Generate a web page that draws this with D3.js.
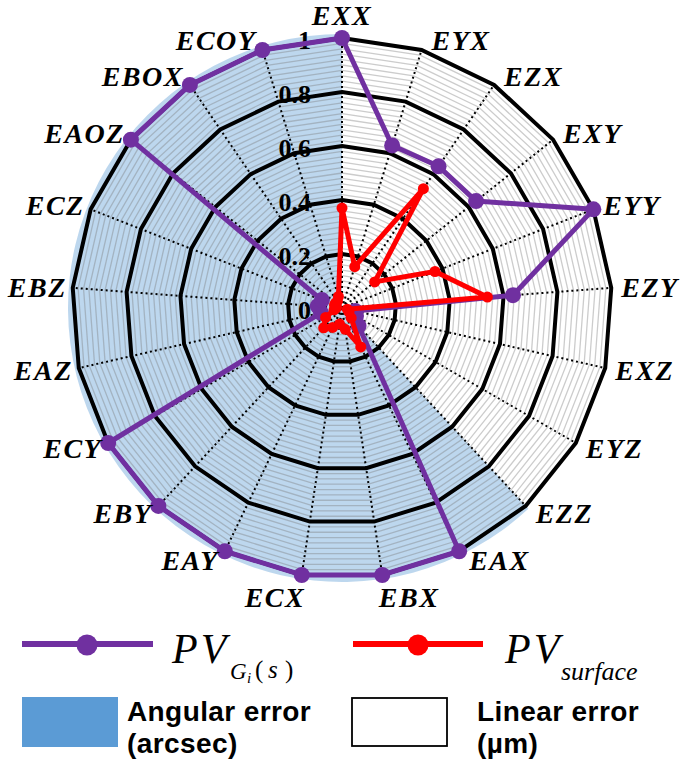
<!DOCTYPE html>
<html>
<head>
<meta charset="utf-8">
<script src="https://cdnjs.cloudflare.com/ajax/libs/d3/7.8.5/d3.min.js"></script>
<style>
  body { margin: 0; background: #fff; }
  svg { display: block; }
</style>
</head>
<body>
<svg width="685" height="766"></svg>
<script>
// axes of the radar, clockwise from the top
var axes = ["EXX", "EYX", "EZX", "EXY", "EYY", "EZY", "EXZ", "EYZ", "EZZ", "EAX", "EBX",
            "ECX", "EAY", "EBY", "ECY", "EAZ", "EBZ", "ECZ", "EAOZ", "EBOX", "ECOY"];

// normalised PV values
var pvG = [1.0, 0.63, 0.635, 0.635, 1.0, 0.635, 0.05, 0.06, 0.09, 1.0, 1.0,
           1.0, 1.0, 1.0, 1.0, 0.08, 0.09, 0.08, 1.0, 1.0, 1.0];
var pvSurface = [0.37, 0.16, 0.535, 0.155, 0.37, 0.54, 0.02, 0.03, 0.05, 0.16, 0.08,
                 0.06, 0.08, 0.10, 0.07, 0.03, 0.02, 0.03, 0.03, 0.03, 0.045];

var tickValues = [0, 0.2, 0.4, 0.6, 0.8, 1];
var tickLabels = ["0", "0.2", "0.4", "0.6", "0.8", "1"];
var minorStep = 0.02;
var angularFrom = "EZZ"; // angular-error sector runs from here round to EXX

var svg = d3.select("svg"),
    cx = 342,
    cy = 308,
    R = 270;

var r = d3.scaleLinear().domain([0, 1]).range([0, R]);
var step = 2 * Math.PI / axes.length;
function angle(i) { return i * step; }

var g = svg.append("g").attr("transform", "translate(" + cx + "," + cy + ")");

// blue sector for the angular errors
g.append("path")
    .attr("d", d3.arc()
        .innerRadius(0)
        .outerRadius(R + 4)
        .startAngle(angle(axes.indexOf(angularFrom)))
        .endAngle(2 * Math.PI)())
    .attr("fill", "#5B9BD5")
    .attr("fill-opacity", 0.4);

var ring = d3.lineRadial()
    .angle(function(d, i) { return angle(i); })
    .radius(function(d) { return r(d); })
    .curve(d3.curveLinearClosed);

// thin rings
var minor = d3.range(minorStep, 1 + 1e-9, minorStep).filter(function(v) {
  return Math.abs(v / 0.2 - Math.round(v / 0.2)) > 1e-6;
});
g.append("g")
  .selectAll("path")
  .data(minor)
  .enter().append("path")
    .attr("d", function(v) { return ring(axes.map(function() { return v; })); })
    .attr("fill", "none")
    .attr("stroke", "#7a7a7a")
    .attr("stroke-opacity", 0.38)
    .attr("stroke-width", 1.3);

// thick rings
g.append("g")
  .selectAll("path")
  .data(tickValues.slice(1))
  .enter().append("path")
    .attr("d", function(v) { return ring(axes.map(function() { return v; })); })
    .attr("fill", "none")
    .attr("stroke", "#000")
    .attr("stroke-width", 4);

// dotted spokes
g.append("g")
  .selectAll("line")
  .data(axes)
  .enter().append("line")
    .attr("x1", 0).attr("y1", 0)
    .attr("x2", function(d, i) { return r(1) * Math.sin(angle(i)); })
    .attr("y2", function(d, i) { return -r(1) * Math.cos(angle(i)); })
    .attr("stroke", "#000")
    .attr("stroke-width", 2)
    .attr("stroke-dasharray", "2,3");

// tick labels left of the EXX spoke
g.append("g")
  .selectAll("text")
  .data(tickValues)
  .enter().append("text")
    .attr("x", -31)
    .attr("y", function(d) { return -r(d) + 2; })
    .attr("text-anchor", "end")
    .attr("dominant-baseline", "central")
    .style("font", "bold 26px 'Liberation Serif', 'Times New Roman', serif")
    .text(function(d, i) { return tickLabels[i]; });

function drawSeries(values, color, dotR) {
  var s = g.append("g");
  s.append("path")
      .attr("d", ring(values))
      .attr("fill", "none")
      .attr("stroke", color)
      .attr("stroke-width", 5)
      .attr("stroke-linejoin", "round");
  s.selectAll("circle")
    .data(values)
    .enter().append("circle")
      .attr("cx", function(d, i) { return r(d) * Math.sin(angle(i)); })
      .attr("cy", function(d, i) { return -r(d) * Math.cos(angle(i)); })
      .attr("r", dotR)
      .attr("fill", color);
}

drawSeries(pvG, "#7030A0", 8);
drawSeries(pvSurface, "#FF0000", 5.5);

// axis names round the outside
g.append("g")
  .selectAll("text")
  .data(axes)
  .enter().append("text")
    .each(function(d, i) {
      var s = Math.sin(angle(i)), c = Math.cos(angle(i));
      var vx = R * s, vy = -R * c;
      var t = d3.select(this);
      if (Math.abs(s) < 0.2) {
        t.attr("x", vx + s * 180).attr("y", vy - c * 23).attr("text-anchor", "middle");
      } else {
        t.attr("x", vx + (s > 0 ? 10 : -6)).attr("y", vy - c * 10)
         .attr("text-anchor", s > 0 ? "start" : "end");
      }
    })
    .attr("dominant-baseline", "central")
    .style("font", "italic bold 28px 'Liberation Serif', 'Times New Roman', serif")
    .style("letter-spacing", "1.5px")
    .text(function(d) { return d; });

// legend
var legend = svg.append("g");
var mathFont = "'Liberation Serif', 'Times New Roman', serif";

legend.append("line")
    .attr("x1", 22).attr("x2", 153).attr("y1", 644).attr("y2", 644)
    .attr("stroke", "#7030A0").attr("stroke-width", 6);
legend.append("circle")
    .attr("cx", 87).attr("cy", 645).attr("r", 10.5).attr("fill", "#7030A0");

legend.append("line")
    .attr("x1", 353).attr("x2", 483).attr("y1", 644).attr("y2", 644)
    .attr("stroke", "#FF0000").attr("stroke-width", 6);
legend.append("circle")
    .attr("cx", 418).attr("cy", 645).attr("r", 10.5).attr("fill", "#FF0000");

function pvText(x) {
  legend.append("text")
      .attr("x", x).attr("y", 663)
      .style("font", "italic 42px " + mathFont)
      .style("letter-spacing", "3px")
      .text("PV");
}
pvText(172);
pvText(505);

var sub = legend.append("text").style("font-family", mathFont);
sub.append("tspan").attr("x", 230).attr("y", 679)
    .style("font-style", "italic").style("font-size", "23px").text("G");
sub.append("tspan").attr("x", 247).attr("y", 683)
    .style("font-style", "italic").style("font-size", "15px").text("i");
sub.append("tspan").attr("x", 255).attr("y", 678)
    .style("font-size", "25px").text("(");
sub.append("tspan").attr("x", 268).attr("y", 678)
    .style("font-style", "italic").style("font-size", "25px").text("s");
sub.append("tspan").attr("x", 285).attr("y", 678)
    .style("font-size", "25px").text(")");

legend.append("text")
    .attr("x", 561).attr("y", 680)
    .style("font", "italic 26px " + mathFont)
    .text("surface");

legend.append("rect")
    .attr("x", 22).attr("y", 697).attr("width", 96).attr("height", 50)
    .attr("fill", "#5B9BD5");
legend.append("rect")
    .attr("x", 352).attr("y", 698).attr("width", 95).attr("height", 48)
    .attr("fill", "#fff").attr("stroke", "#000").attr("stroke-width", 1.8);

function boxLabel(x, lines) {
  var t = legend.append("text")
      .style("font", "bold 28px 'Liberation Sans', Arial, sans-serif")
      .style("letter-spacing", "0.4px");
  lines.forEach(function(line, k) {
    t.append("tspan").attr("x", x).attr("y", 721 + k * 32).text(line);
  });
}
boxLabel(127, ["Angular error", "(arcsec)"]);
boxLabel(477, ["Linear error", "(\u00b5m)"]);
</script>
</body>
</html>
